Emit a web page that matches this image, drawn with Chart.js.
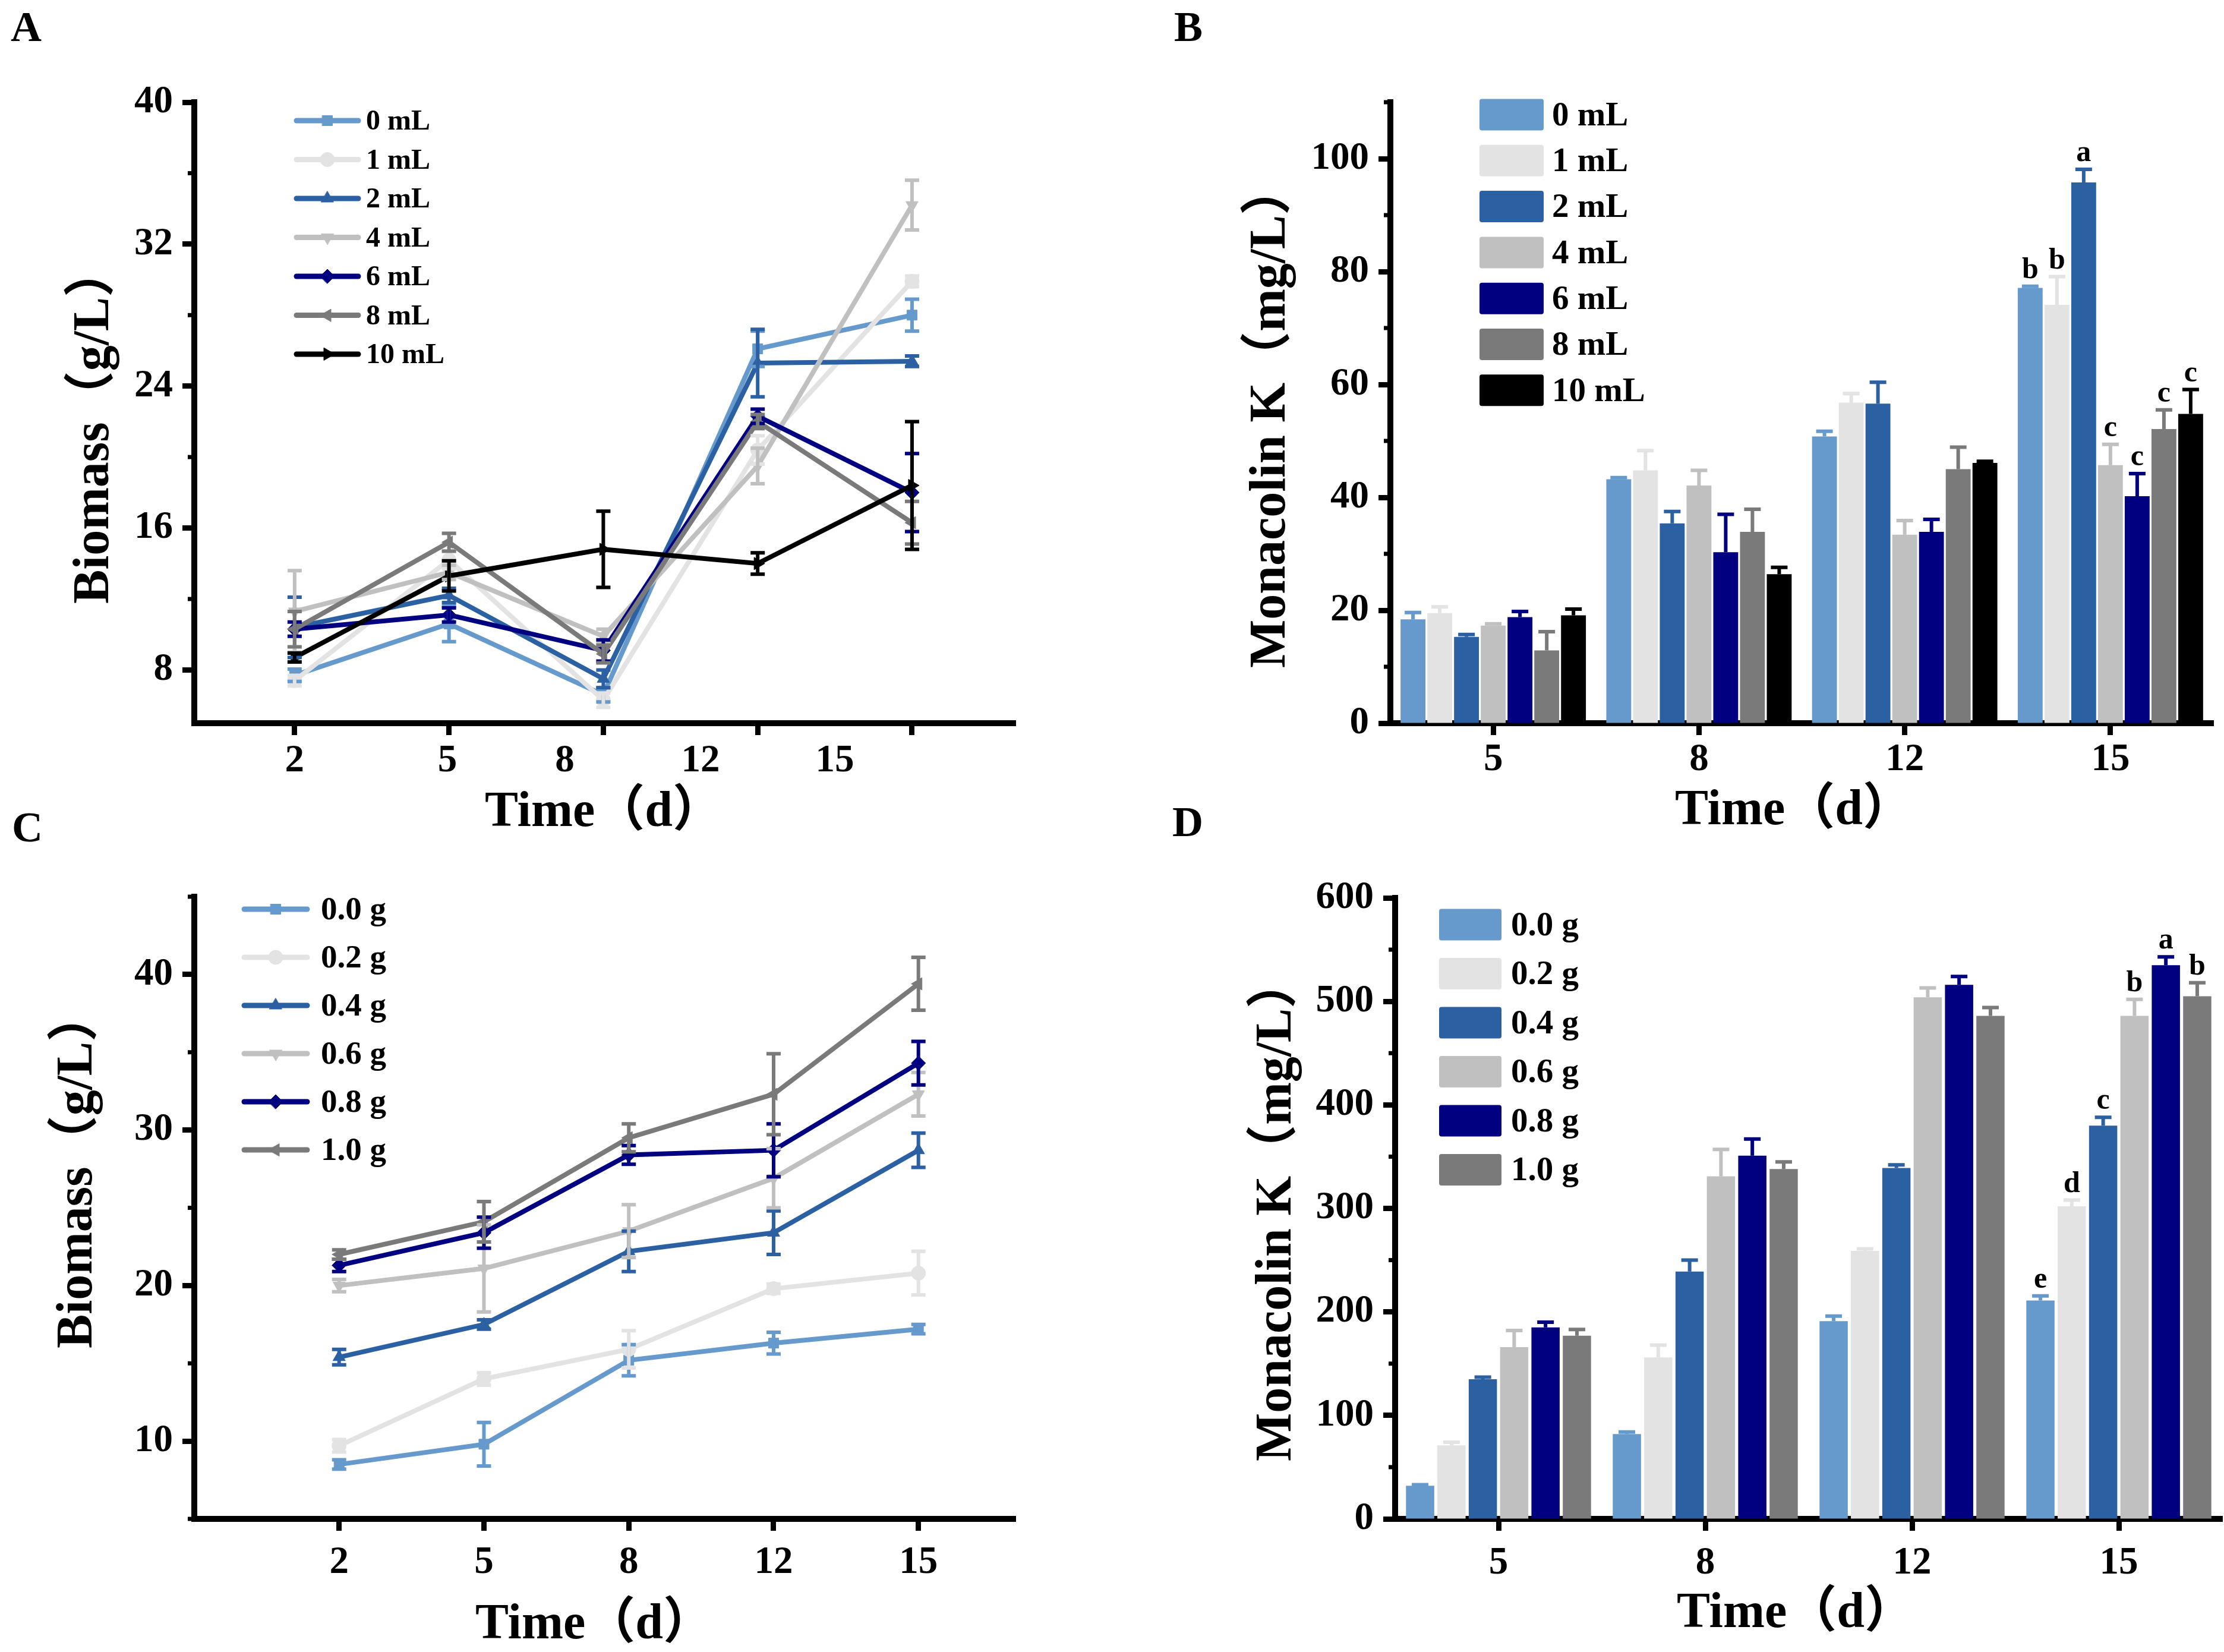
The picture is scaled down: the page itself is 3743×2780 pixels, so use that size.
<!DOCTYPE html>
<html>
<head>
<meta charset="utf-8">
<script src="https://cdn.jsdelivr.net/npm/chart.js@4.4.1/dist/chart.umd.min.js"></script>
<style>
  html, body { margin: 0; padding: 0; background: #fff; }
  body { width: 3743px; height: 2780px; position: relative; overflow: hidden; }
  canvas { position: absolute; }
</style>
</head>
<body>
<canvas id="chartA" width="1950" height="1420" style="left:0;top:0"></canvas>
<canvas id="chartB" width="1793" height="1420" style="left:1950px;top:0"></canvas>
<canvas id="chartC" width="1950" height="1420" style="left:0;top:1360px"></canvas>
<canvas id="chartD" width="1793" height="1420" style="left:1950px;top:1360px"></canvas>
<script>
// ---- data ----
const lineDays = ["2", "5", "8", "12", "15"];
const barDays = ["5", "8", "12", "15"];
const volumes = ["0 mL", "1 mL", "2 mL", "4 mL", "6 mL", "8 mL", "10 mL"];
const masses = ["0.0 g", "0.2 g", "0.4 g", "0.6 g", "0.8 g", "1.0 g"];

// A: biomass (g/L), one row per volume, one column per day
const biomassA = [
  [7.7, 10.6, 6.6, 26.1, 28.0],
  [7.4, 14.2, 6.3, 20.4, 29.9],
  [10.4, 12.2, 7.5, 25.3, 25.4],
  [11.3, 13.5, 9.9, 19.5, 34.2],
  [10.3, 11.1, 9.1, 22.3, 18.0],
  [10.3, 15.2, 8.9, 22.0, 16.3],
  [8.7, 13.3, 14.8, 14.0, 18.4]
];
const biomassAErr = [
  [0.35, 1.0, 0.4, 1.0, 0.9],
  [0.3, 0.5, 0.4, 0.8, 0.3],
  [1.7, 0.4, 0.5, 1.9, 0.3],
  [2.3, 0.4, 0.4, 1.0, 1.4],
  [0.4, 0.4, 0.6, 0.4, 2.2],
  [1.0, 0.5, 0.5, 0.4, 1.2],
  [0.25, 0.85, 2.15, 0.6, 3.6]
];
const yTicksA = [8, 16, 24, 32, 40];

// B: monacolin K (mg/L), one row per volume, one column per day
const monacolinB = [
  [18.4, 43.2, 50.8, 77.1],
  [19.5, 44.8, 56.8, 74.1],
  [15.3, 35.4, 56.6, 95.8],
  [17.3, 42.1, 33.4, 45.7],
  [18.8, 30.3, 33.9, 40.2],
  [12.9, 33.9, 45.0, 52.1],
  [19.1, 26.4, 46.1, 54.8]
];
const monacolinBErr = [
  [1.2, 0.3, 0.9, 0.3],
  [1.1, 3.5, 1.6, 5.0],
  [0.4, 2.1, 3.8, 2.3],
  [0.3, 2.7, 2.5, 3.7],
  [1.0, 6.7, 2.2, 4.0],
  [3.3, 4.0, 3.9, 3.4],
  [1.1, 1.2, 0.3, 4.3]
];
const lettersB = ["b", "b", "a", "c", "c", "c", "c"];
const yTicksB = [0, 20, 40, 60, 80, 100];

// C: biomass (g/L), one row per mass
const biomassC = [
  [8.5, 9.8, 15.2, 16.3, 17.2],
  [9.7, 14.0, 15.9, 19.8, 20.8],
  [15.4, 17.5, 22.2, 23.4, 28.7],
  [20.0, 21.1, 23.5, 26.9, 32.3],
  [21.3, 23.4, 28.4, 28.7, 34.3],
  [22.0, 24.1, 29.5, 32.3, 39.4]
];
const biomassCErr = [
  [0.3, 1.4, 1.0, 0.7, 0.3],
  [0.4, 0.4, 1.2, 0.3, 1.4],
  [0.5, 0.3, 1.3, 1.4, 1.1],
  [0.4, 2.8, 1.7, 1.9, 1.4],
  [0.4, 1.0, 0.6, 1.7, 1.4],
  [0.3, 1.3, 0.9, 2.6, 1.7]
];
const yTicksC = [10, 20, 30, 40];

// D: monacolin K (mg/L), one row per mass
const monacolinD = [
  [32, 82, 191, 211],
  [71, 156, 259, 302],
  [135, 239, 339, 380],
  [166, 331, 504, 486],
  [185, 351, 516, 535],
  [177, 338, 486, 505]
];
const monacolinDErr = [
  [1, 2, 5, 4.5],
  [3, 12, 2, 6],
  [2, 11, 3, 8],
  [16, 26, 9, 16],
  [5, 16, 8, 8],
  [6, 7, 8, 13]
];
const lettersD = ["e", "d", "c", "b", "a", "b"];
const yTicksD = [0, 100, 200, 300, 400, 500, 600];

// ---- styles ----
const SERIF = '"Liberation Serif", "Times New Roman", "Noto Sans CJK SC", serif';
const colors = ["#6699cc", "#e3e3e3", "#2b60a3", "#c0c0c0", "#000080", "#7a7a7a", "#000000"];
const markers = [["rect", 0], ["circle", 0], ["triangle", 0], ["triangle", 180], ["rectRot", 0], ["triangle", 270], ["triangle", 90]];

// ---- plugins ----
const errorBars = {
  id: "errorBars",
  afterDatasetsDraw(chart, args, o) {
    const ctx = chart.ctx, ys = chart.scales.y;
    ctx.save();
    chart.data.datasets.forEach((ds, i) => {
      if (!ds.errors) return;
      const meta = chart.getDatasetMeta(i);
      ctx.strokeStyle = ds.errColor;
      ctx.lineWidth = o.width;
      meta.data.forEach((el, j) => {
        const d = ds.data[j];
        const v = typeof d === "object" ? d.y : d;
        const e = ds.errors[j];
        const top = ys.getPixelForValue(v + e);
        const bot = o.twoSided ? ys.getPixelForValue(v - e) : ys.getPixelForValue(v);
        ctx.beginPath();
        ctx.moveTo(el.x, bot); ctx.lineTo(el.x, top);
        ctx.moveTo(el.x - o.cap, top); ctx.lineTo(el.x + o.cap, top);
        if (o.twoSided) { ctx.moveTo(el.x - o.cap, bot); ctx.lineTo(el.x + o.cap, bot); }
        ctx.stroke();
      });
    });
    ctx.restore();
  }
};

const sigLetters = {
  id: "sigLetters",
  afterDatasetsDraw(chart, args, o) {
    if (!o.letters) return;
    const ctx = chart.ctx, ys = chart.scales.y;
    ctx.save();
    ctx.font = "bold 50px " + SERIF;
    ctx.fillStyle = "#000";
    ctx.textAlign = "center";
    ctx.textBaseline = "alphabetic";
    chart.data.datasets.forEach((ds, i) => {
      const el = chart.getDatasetMeta(i).data[o.index];
      const top = ys.getPixelForValue(ds.data[o.index] + ds.errors[o.index]);
      ctx.fillText(o.letters[i], el.x, top - 14);
    });
    ctx.restore();
  }
};

const legendBox = {
  id: "legendBox",
  afterDraw(chart, args, o) {
    if (!o.kind) return;
    const ctx = chart.ctx;
    ctx.save();
    ctx.font = "bold " + o.fontSize + "px " + SERIF;
    ctx.textBaseline = "middle";
    ctx.textAlign = "left";
    chart.data.datasets.forEach((ds, i) => {
      const y = o.y + i * o.gap;
      if (o.kind === "line") {
        ctx.strokeStyle = ds.borderColor;
        ctx.lineWidth = 9;
        ctx.lineCap = "round";
        ctx.beginPath(); ctx.moveTo(o.x0, y); ctx.lineTo(o.x1, y); ctx.stroke();
        ctx.fillStyle = ds.borderColor;
        ctx.lineWidth = 1;
        Chart.helpers.drawPoint(ctx, { pointStyle: ds.pointStyle, rotation: ds.pointRotation, radius: 12, borderWidth: 1 }, (o.x0 + o.x1) / 2, y);
      } else {
        ctx.fillStyle = ds.backgroundColor;
        ctx.beginPath();
        ctx.roundRect(o.x0, y - o.h / 2, o.x1 - o.x0, o.h, 4);
        ctx.fill();
      }
      ctx.fillStyle = "#000";
      ctx.fillText(ds.label, o.tx, y + 3);
    });
    ctx.restore();
  }
};

const decor = {
  id: "decor",
  afterDraw(chart, args, o) {
    const ctx = chart.ctx, area = chart.chartArea, ys = chart.scales.y;
    ctx.save();
    ctx.fillStyle = "#000";
    ctx.strokeStyle = "#000";
    // minor ticks on the y axis
    const t = ys.ticks.map(k => k.value);
    const step = t[1] - t[0];
    const minors = t.map(v => v - step / 2);
    minors.push(t[t.length - 1] + step / 2);
    ctx.lineWidth = 7;
    minors.forEach(v => {
      if (v < ys.min - 1e-9 || v > ys.max + 1e-9) return;
      const py = ys.getPixelForValue(v);
      ctx.beginPath(); ctx.moveTo(area.left - 11, py); ctx.lineTo(area.left, py); ctx.stroke();
    });
    // shifted day labels (panel A)
    if (o.dayLabelAt) {
      const xs = chart.scales.x;
      ctx.font = "bold 65px " + SERIF;
      ctx.textAlign = "center";
      ctx.textBaseline = "middle";
      o.dayLabelAt.forEach((v, i) => ctx.fillText(lineDays[i], xs.getPixelForValue(v), area.bottom + 64));
    }
    // panel letter
    ctx.font = "bold 72px " + SERIF;
    ctx.textAlign = "left";
    ctx.textBaseline = "middle";
    ctx.fillText(o.letter, o.letterX, o.letterY);
    // x title
    ctx.font = "bold 84px " + SERIF;
    ctx.textAlign = "center";
    ctx.fillText(o.xTitle, o.xTitleX, o.xTitleY);
    // y title
    ctx.translate(o.yTitleX, o.yTitleY);
    ctx.rotate(-Math.PI / 2);
    ctx.font = "bold 86px " + SERIF;
    ctx.fillText(o.yTitle, 0, 0);
    ctx.restore();
  }
};

// ---- helpers ----
const tickFont = { family: SERIF, weight: "bold", size: 65 };

function yAxis(min, max, ticks) {
  return {
    min: min, max: max,
    afterBuildTicks: s => { s.ticks = ticks.map(v => ({ value: v })); },
    afterFit: s => { s.width = 200; },
    border: { color: "#000", width: 10 },
    grid: { drawOnChartArea: false, tickLength: 20, tickWidth: 9, tickColor: "#000" },
    ticks: { color: "#000", font: tickFont, padding: 16 }
  };
}

function lineX(min, max, showLabels, pad) {
  return {
    type: "linear", min: min, max: max,
    afterBuildTicks: s => { s.ticks = lineDays.map((d, i) => ({ value: i })); },
    afterFit: s => { s.height = 120; },
    border: { color: "#000", width: 10 },
    grid: { drawOnChartArea: false, tickLength: 20, tickWidth: 9, tickColor: "#000" },
    ticks: { color: "#000", font: tickFont, padding: pad, callback: v => showLabels ? lineDays[v] : "" }
  };
}

function barX(pad) {
  return {
    type: "category",
    offset: true,
    afterFit: s => { s.height = 120; },
    border: { color: "#000", width: 10 },
    grid: { offset: false, drawOnChartArea: false, tickLength: 20, tickWidth: 9, tickColor: "#000" },
    ticks: { color: "#000", font: tickFont, padding: pad }
  };
}

function lineSets(names, values, errs) {
  return names.map((name, i) => ({
    label: name,
    data: values[i].map((v, j) => ({ x: j, y: v })),
    errors: errs[i],
    errColor: colors[i],
    borderColor: colors[i],
    backgroundColor: colors[i],
    pointBackgroundColor: colors[i],
    pointBorderColor: colors[i],
    pointStyle: markers[i][0],
    pointRotation: markers[i][1],
    pointRadius: 12,
    pointBorderWidth: 1,
    borderWidth: 8,
    tension: 0,
    order: -i
  }));
}

function barSets(names, values, errs, palette) {
  return names.map((name, i) => ({
    label: name,
    data: values[i],
    errors: errs[i],
    errColor: palette[i],
    backgroundColor: palette[i],
    borderWidth: 0
  }));
}

const common = {
  responsive: false,
  animation: false,
  events: [],
  plugins: { legend: { display: false }, tooltip: { enabled: false } }
};

const barPalette = ["#6699cc", "#e3e3e3", "#2b60a3", "#c0c0c0", "#000080", "#7a7a7a", "#000000"];
const massPalette = ["#6699cc", "#e3e3e3", "#2b60a3", "#c0c0c0", "#000080", "#7a7a7a"];

// ---- panel A ----
new Chart(document.getElementById("chartA"), {
  type: "line",
  data: { datasets: lineSets(volumes, biomassA, biomassAErr) },
  options: Object.assign({}, common, {
    layout: { padding: { left: 127, top: 172, right: 241, bottom: 83 } },
    scales: { x: lineX(-0.65, 4.67, false, 8), y: yAxis(5, 40, yTicksA) },
    plugins: Object.assign({}, common.plugins, {
      errorBars: { width: 6, cap: 12, twoSided: true },
      legendBox: { kind: "line", x0: 499, x1: 603, tx: 616, y: 203, gap: 65.5, fontSize: 48 },
      decor: { letter: "A", letterX: 18, letterY: 50, xTitle: "Time（d）", xTitleX: 1016, xTitleY: 1368,
               yTitle: "Biomass（g/L）", yTitleX: 160, yTitleY: 715, dayLabelAt: [0, 0.99, 1.75, 2.63, 3.5] }
    })
  }),
  plugins: [errorBars, legendBox, decor]
});

// ---- panel B ----
new Chart(document.getElementById("chartB"), {
  type: "bar",
  data: { labels: barDays, datasets: barSets(volumes, monacolinB, monacolinBErr, barPalette) },
  options: Object.assign({}, common, {
    layout: { padding: { left: 190, top: 172, right: 18, bottom: 83 } },
    datasets: { bar: { categoryPercentage: 0.91, barPercentage: 0.93 } },
    scales: { x: barX(3), y: yAxis(0, 110, yTicksB) },
    plugins: Object.assign({}, common.plugins, {
      errorBars: { width: 6, cap: 14, twoSided: false },
      sigLetters: { letters: lettersB, index: 3 },
      legendBox: { kind: "box", x0: 540, x1: 648, h: 53, tx: 662, y: 193, gap: 77.3, fontSize: 57 },
      decor: { letter: "B", letterX: 26, letterY: 50, xTitle: "Time（d）", xTitleX: 1069, xTitleY: 1365,
               yTitle: "Monacolin K（mg/L）", yTitleX: 190, yTitleY: 700 }
    })
  }),
  plugins: [errorBars, sigLetters, legendBox, decor]
});

// ---- panel C ----
new Chart(document.getElementById("chartC"), {
  type: "line",
  data: { datasets: lineSets(masses, biomassC, biomassCErr) },
  options: Object.assign({}, common, {
    layout: { padding: { left: 127, top: 149, right: 241, bottom: 104 } },
    scales: { x: lineX(-1, 4.67, true, 15), y: yAxis(5, 45, yTicksC) },
    plugins: Object.assign({}, common.plugins, {
      errorBars: { width: 6, cap: 12, twoSided: true },
      legendBox: { kind: "line", x0: 411, x1: 517, tx: 540, y: 170, gap: 81, fontSize: 55 },
      decor: { letter: "C", letterX: 20, letterY: 37, xTitle: "Time（d）", xTitleX: 1000, xTitleY: 1375,
               yTitle: "Biomass（g/L）", yTitleX: 132, yTitleY: 608 }
    })
  }),
  plugins: [errorBars, legendBox, decor]
});

// ---- panel D ----
new Chart(document.getElementById("chartD"), {
  type: "bar",
  data: { labels: barDays, datasets: barSets(masses, monacolinD, monacolinDErr, massPalette) },
  options: Object.assign({}, common, {
    layout: { padding: { left: 198, top: 151, right: 3, bottom: 104 } },
    datasets: { bar: { categoryPercentage: 0.91, barPercentage: 0.9 } },
    scales: { x: barX(16), y: yAxis(0, 600, yTicksD) },
    plugins: Object.assign({}, common.plugins, {
      errorBars: { width: 6, cap: 14, twoSided: false },
      sigLetters: { letters: lettersD, index: 3 },
      legendBox: { kind: "box", x0: 472, x1: 577, h: 53, tx: 593, y: 196, gap: 82.5, fontSize: 57 },
      decor: { letter: "D", letterX: 23, letterY: 28, xTitle: "Time（d）", xTitleX: 1072, xTitleY: 1356,
               yTitle: "Monacolin K（mg/L）", yTitleX: 200, yTitleY: 675 }
    })
  }),
  plugins: [errorBars, sigLetters, legendBox, decor]
});
</script>
</body>
</html>
